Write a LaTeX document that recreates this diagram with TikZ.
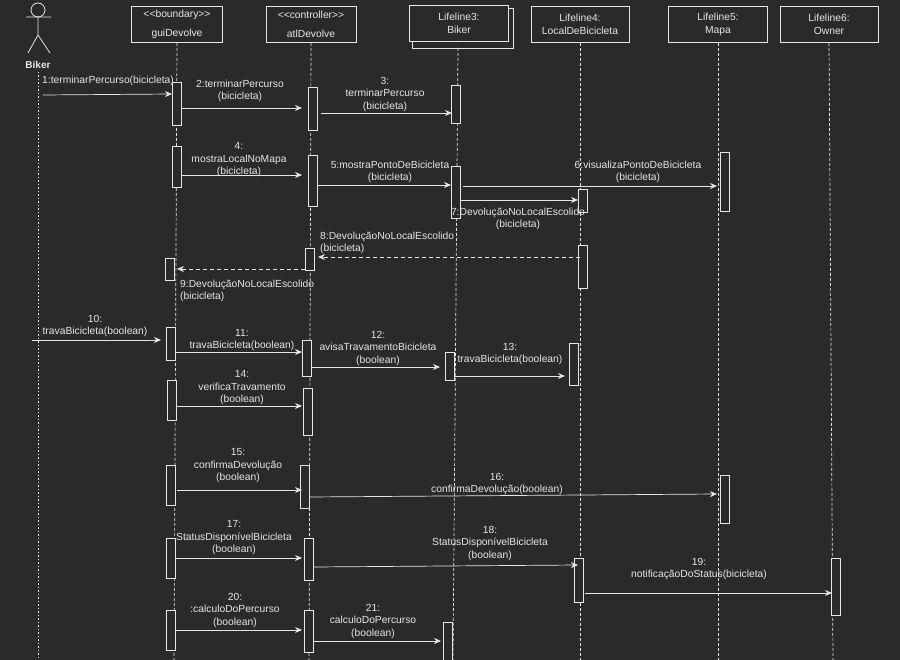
\documentclass[tikz,border=0pt]{standalone}
\usepackage{fontspec}
\setmainfont{Liberation Sans}
\usetikzlibrary{arrows.meta}
\definecolor{bg}{HTML}{2A2A2A}
\definecolor{fg}{HTML}{E6E6E6}
\begin{document}
\begin{tikzpicture}[x=1pt,y=-1pt,
  every node/.style={text=fg,font=\fontsize{10.3}{12.5}\selectfont},
  head/.style={draw=fg,line width=0.8pt,minimum width=#1,minimum height=36pt,inner sep=0pt,align=center,anchor=north},
  life/.style={fg,dashed,dash pattern=on 3pt off 2pt,line width=0.7pt},
  act/.style={draw=fg,fill=bg,line width=0.8pt},
  msg/.style={fg,line width=0.7pt,-{Stealth[length=7pt,width=6pt]}},
  ret/.style={msg,dashed,dash pattern=on 4pt off 3pt},
  lab/.style={align=center,inner sep=0pt}]
\fill[bg] (0,0) rectangle (900,660);
\useasboundingbox (0,0) rectangle (900,660);
% actor
\draw[fg,line width=0.8pt] (38,10) circle (7);
\draw[fg,line width=0.8pt] (38,17)--(38,35) (26,17)--(51,17) (28,53)--(38,35)--(50,53);
\node[font=\fontsize{10}{12}\selectfont\bfseries] (biker) at (38,65) {Biker};
\draw[life,dash pattern=on 1.5pt off 2pt] (38,72)--(38,660);
% heads
\node[head=91pt] (gui) at (177,6) {{<}{<}boundary{>}{>}\\[7pt]guiDevolve};
\node[head=90pt] (atl) at (311,6) {{<}{<}controller{>}{>}\\[7pt]atlDevolve};
\draw[fg,line width=0.8pt] (412,8) rectangle (513,48);
\node[head=99pt,fill=bg] (l3) at (459,5) {Lifeline3:\\Biker};
\node[head=98pt] (l4) at (580,6) {Lifeline4:\\LocalDeBicicleta};
\node[head=99pt] (l5) at (718,6) {Lifeline5:\\Mapa};
\node[head=98pt] (l6) at (829,6) {Lifeline6:\\Owner};
\draw[life] (458,48)--(453,660);
\draw[life] (gui.south)--(174,660);
\draw[life] (atl.south)--(309,660);
\draw[life] (l4.south)--(580,660);
\draw[life] (l5.south)|-(723,660);
\draw[life] (l6.south)--(833,660);
% activations
\foreach \x/\a/\b in {177/82/125,177/146/187,170/258/280,171/327/360,172/380/420,171/465/505,171/538/578,171/610/650,
  313/87/130,313/155/206,310/248/270,307/340/376,308/388/435,305/465/508,309/538/580,309/610/652,
  456/85/123,456/166/218,450/352/380,448/622/660,
  583/189/212,583/245/288,574/343/385,579/558/602,
  725/152/211,725/475/523,836/558/615}
  \draw[act] (\x-4.5,\a) rectangle (\x+4.5,\b);
% messages
\draw[msg] (43,95)--(172,94);
\node[lab] at (108,81) {1:terminarPercurso(bicicleta)};
\draw[msg] (182,108)--(302,108);
\node[lab] at (240,91) {2:terminarPercurso\\(bicicleta)};
\draw[msg] (321,113)--(452,113);
\node[lab] at (385,94) {3:\\terminarPercurso\\(bicicleta)};
\draw[msg] (182,175)--(302,175);
\node[lab] at (239,160) {4:\\mostraLocalNoMapa\\(bicicleta)};
\draw[msg] (318,185)--(451,185);
\node[lab] at (390,172) {5:mostraPontoDeBicicleta\\(bicicleta)};
\draw[msg] (463,186)--(717,186);
\node[lab] at (638,172) {6:visualizaPontoDeBicicleta\\(bicicleta)};
\draw[msg] (461,200)--(578,200);
\node[lab] at (518,219) {7:DevoluçãoNoLocalEscolido\\(bicicleta)};
\draw[ret] (580,257)--(318,257);
\node[lab,align=left,anchor=west] at (320,243) {8:DevoluçãoNoLocalEscolido\\(bicicleta)};
\draw[ret] (305,269)--(177,269);
\node[lab,align=left,anchor=west] at (180,291) {9:DevoluçãoNoLocalEscolido\\(bicicleta)};
\draw[msg] (32,340)--(161,340);
\node[lab] at (95,326) {10:\\travaBicicleta(boolean)};
\draw[msg] (176,352)--(302,352);
\node[lab] at (242,340) {11:\\travaBicicleta(boolean)};
\draw[msg] (312,367)--(440,367);
\node[lab] at (378,348) {12:\\avisaTravamentoBicicleta\\(boolean)};
\draw[msg] (455,376)--(565,376);
\node[lab] at (510,354) {13:\\travaBicicleta(boolean)};
\draw[msg] (177,406)--(302,406);
\node[lab] at (242,388) {14:\\verificaTravamento\\(boolean)};
\draw[msg] (177,490)--(302,490);
\node[lab] at (238,466) {15:\\confirmaDevolução\\(boolean)};
\draw[msg] (310,497)--(717,494);
\node[lab] at (497,484) {16:\\confirmaDevolução(boolean)};
\draw[msg] (176,558)--(302,558);
\node[lab] at (234,538) {17:\\StatusDisponívelBicicleta\\(boolean)};
\draw[msg] (314,567)--(578,565);
\node[lab] at (490,543) {18:\\StatusDisponívelBicicleta\\(boolean)};
\draw[msg] (585,593)--(832,593);
\node[lab] at (699,569) {19:\\notificaçãoDoStatus(bicicleta)};
\draw[msg] (176,630)--(302,630);
\node[lab] at (235,610) {20:\\:calculoDoPercurso\\(boolean)};
\draw[msg] (314,641)--(441,641);
\node[lab] at (373,621) {21:\\calculoDoPercurso\\(boolean)};
\end{tikzpicture}
\end{document}
